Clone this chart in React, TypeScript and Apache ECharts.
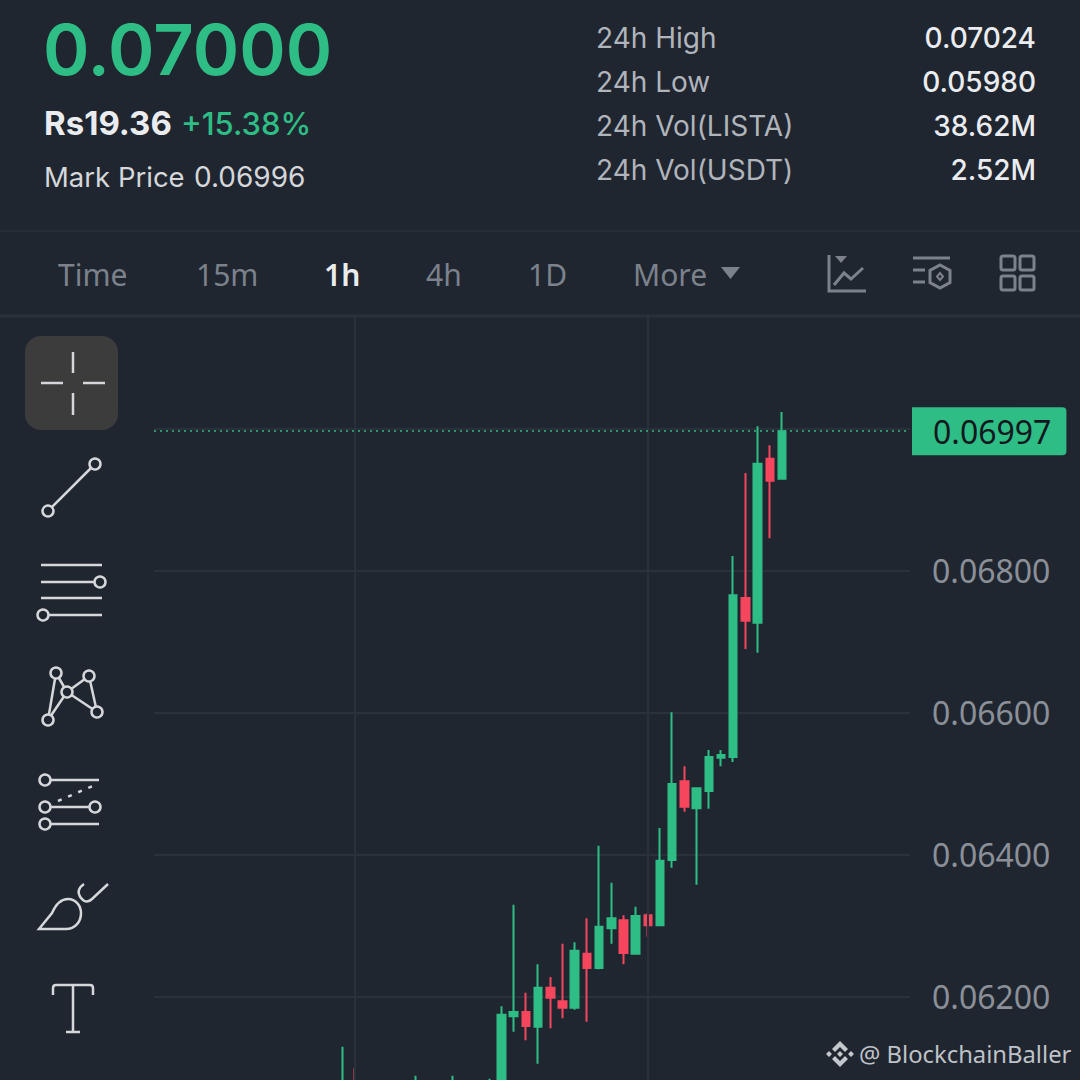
import React, { useEffect, useRef } from "react";
import * as echarts from "echarts";

// ---------- data ----------
const categories = [
  "0","1","2","3","4","5","6","7","8","9","10","11","12","13","14","15","16","17","18","19",
  "20","21","22","23","24","25","26","27","28","29","30","31","32","33","34","35","36","37","38","39",
  "40","41","42","43","44","45","46","47","48","49","50","51","52","53","54","55","56","57","58","59",
  "60","61",
];
const candleSlots = [15,16,21,24,27,28,29,30,31,32,33,34,35,36,37,38,39,40,41,42,43,44,45,46,47,48,49,50,51];
const opens = [0.0604,0.0607,0.0603,0.0605,0.0604,0.06062,0.06173,0.06179,0.06158,0.06213,0.06194,0.06185,0.06261,0.06241,0.06297,0.06308,0.06261,0.06315,0.06301,0.06393,0.06504,0.06466,0.0649,0.06537,0.06538,0.06762,0.06727,0.06958,0.0693];
const closes = [0.0607,0.0605,0.0606,0.0607,0.0606,0.06175,0.06179,0.06159,0.06213,0.06199,0.06185,0.06265,0.06241,0.06299,0.06311,0.06262,0.06314,0.06301,0.06392,0.065,0.06468,0.06494,0.06538,0.06541,0.06766,0.0673,0.06951,0.06927,0.06997];
const lows = [0.0602,0.0603,0.0601,0.0603,0.0602,0.06055,0.06151,0.06139,0.06106,0.06156,0.0617,0.06182,0.06165,0.06239,0.06275,0.06246,0.06261,0.06285,0.06301,0.06382,0.06461,0.06358,0.06465,0.06525,0.06531,0.0669,0.06685,0.06846,0.0693];
const highs = [0.0613,0.061,0.06089,0.06089,0.06085,0.06187,0.0633,0.06206,0.06246,0.06228,0.06275,0.06277,0.06311,0.06413,0.06361,0.06315,0.06327,0.06318,0.06438,0.06601,0.06525,0.06494,0.06548,0.06548,0.06821,0.06938,0.07004,0.06977,0.07024];
const dayMarkers = ["16", "40"];
const lastPrice = 0.06997;

const statLabels = ["24h High", "24h Low", "24h Vol(LISTA)", "24h Vol(USDT)"];
const statValues = ["0.07024", "0.05980", "38.62M", "2.52M"];
const tabLabels = ["Time", "15m", "1h", "4h", "1D", "More"];

// ---------- palette ----------
const BG = "#202630";
const GREEN = "#2EBD85";
const RED = "#F6465D";
const GRID = "#2B313B";
const ICON = "#D5D7DA";
const MUTED = "#7C828C";
const AXIS_FONT = '"Noto Sans", sans-serif';
const HEAD_FONT = 'Inter, "Noto Sans", sans-serif';

echarts.graphic.registerShape(
  "brushLeaf",
  echarts.graphic.extendPath("M39 929 L52 913 C56 904 62 899 68 899 C76 899 81 906 81 913 C81 922 75 929 66 929 Z M84 884 C78 888 77 893 81 898 C85 903 89 902 92 899 L108 884", {})
);
echarts.graphic.registerShape(
  "tGlyph",
  echarts.graphic.extendPath("M53 995 L53 988 Q53 985 56 985 L90 985 Q93 985 93 988 L93 995 M73 985 L73 1032 M66 1032 L80 1032", {})
);
echarts.graphic.registerShape(
  "bnbMark",
  echarts.graphic.extendPath("M840 1051 L843 1054 L840 1057 L837 1054 Z M829 1051 L832 1054 L829 1057 L826 1054 Z M851 1051 L854 1054 L851 1057 L848 1054 Z M840 1041 L848 1049 L845 1052 L840 1047 L835 1052 L832 1049 Z M840 1067 L832 1059 L835 1056 L840 1061 L845 1056 L848 1059 Z", {})
);

const ln = (x1: number, y1: number, x2: number, y2: number, stroke = ICON, lineWidth = 2.5, extra: any = {}) => ({
  type: "line",
  shape: { x1, y1, x2, y2 },
  style: { stroke, lineWidth, ...extra },
});
const dot = (cx: number, cy: number, r = 5.5) => ({
  type: "circle",
  shape: { cx, cy, r },
  style: { fill: BG, stroke: ICON, lineWidth: 2.5 },
});
const txt = (x: number, y: number, text: string, fontSize: number, fill: string, fontWeight: any = 400, align = "left", fontFamily = HEAD_FONT) => ({
  type: "text",
  x,
  y,
  style: { text, fontSize, fill, fontWeight, fontFamily, align, verticalAlign: "middle" },
});
const frame = (x: number, y: number) => ({
  type: "rect",
  shape: { x, y, width: 14, height: 14, r: 2 },
  style: { fill: "none", stroke: MUTED, lineWidth: 3 },
});

const tabX = [58, 196, 324, 426, 528, 633];

const graphicElements: any[] = [
  // header
  txt(43, 49, "0.07000", 70.5, GREEN, 600),
  txt(44, 123, "Rs19.36", 33, "#EAECEF", 700),
  txt(181, 123, "+15.38%", 31, GREEN, 500),
  txt(44, 177, "Mark Price", 27.5, "#D5D7DA", 400),
  txt(194, 177, "0.06996", 28, "#D5D7DA", 400),
  ...statLabels.map((s, i) => txt(596, 38 + i * 44, s, 28, "#B0B4BB", 400)),
  ...statValues.map((s, i) => txt(1036, 38 + i * 44, s, 28, "#EAECEF", 500, "right")),
  ln(0, 231, 1080, 231, "#2E343E", 1),
  // tabs
  ...tabLabels.map((s, i) =>
    txt(tabX[i], 274, s, 30, i === 2 ? "#EAECEF" : MUTED, i === 2 ? 600 : 400, "left", AXIS_FONT)
  ),
  { type: "polygon", shape: { points: [[721, 267], [740, 267], [730.5, 279]] }, style: { fill: MUTED } },
  ln(0, 316, 1080, 316, "#2A303A", 3),
  // top-right icons
  { type: "polyline", shape: { points: [[829, 255], [829, 291], [866, 291]] }, style: { fill: "none", stroke: MUTED, lineWidth: 3 } },
  { type: "polygon", shape: { points: [[835, 256], [847, 256], [841, 263]] }, style: { fill: MUTED } },
  { type: "polyline", shape: { points: [[834, 285], [844, 273], [851, 279], [863, 268]] }, style: { fill: "none", stroke: MUTED, lineWidth: 3 } },
  ln(913, 258, 950, 258, MUTED, 3),
  ln(913, 270, 925, 270, MUTED, 3),
  ln(913, 282, 925, 282, MUTED, 3),
  { type: "polygon", shape: { points: [[940, 265], [950, 270.5], [950, 282.5], [940, 288], [930, 282.5], [930, 270.5]] }, style: { fill: "none", stroke: MUTED, lineWidth: 3 } },
  { type: "polygon", shape: { points: [[940, 273], [943, 276.5], [940, 280], [937, 276.5]] }, style: { fill: "none", stroke: MUTED, lineWidth: 2 } },
  frame(1001, 256),
  frame(1020, 256),
  frame(1001, 276),
  frame(1020, 276),
  // drawing tools
  { type: "rect", shape: { x: 25, y: 336, width: 93, height: 94, r: 16 }, style: { fill: "#3C3C3C" } },
  ln(73, 352, 73, 373),
  ln(73, 393, 73, 415),
  ln(41, 383, 63, 383),
  ln(83, 383, 105, 383),
  ln(48, 511, 95, 464),
  dot(48, 511),
  dot(95, 464),
  ln(41, 565, 102, 565),
  ln(41, 582, 96, 582),
  dot(100, 582),
  ln(41, 598, 102, 598),
  ln(47, 615, 102, 615),
  dot(43, 615),
  ln(48, 720, 56, 673),
  ln(48, 720, 67, 692),
  ln(56, 673, 67, 692),
  ln(67, 692, 89, 676),
  ln(89, 676, 97, 712),
  ln(67, 692, 97, 712),
  dot(56, 673),
  dot(89, 676),
  dot(67, 692),
  dot(48, 720),
  dot(97, 712),
  ln(45, 780, 99, 780),
  ln(45, 807, 95, 807),
  ln(45, 824, 99, 824),
  ln(58, 801, 95, 785, ICON, 2.5, { lineDash: [4, 7] }),
  dot(45, 780),
  dot(45, 807),
  dot(95, 807),
  dot(45, 824),
  { type: "brushLeaf", style: { fill: "none", stroke: ICON, lineWidth: 2.5 } },
  { type: "tGlyph", style: { fill: "none", stroke: ICON, lineWidth: 2.5 } },
  // watermark
  { type: "bnbMark", style: { fill: "#C4C7CC" } },
  txt(859, 1054, "@ BlockchainBaller", 23.8, "#BFC2C7", 400, "left", AXIS_FONT),
];

export default function App() {
  const ref = useRef<HTMLDivElement>(null);

  useEffect(() => {
    document.body.style.margin = "0";
    document.body.style.background = BG;
    const chart = echarts.init(ref.current!, undefined, { renderer: "svg" });
    const seriesData = categories.map((_, i) => {
      const k = candleSlots.indexOf(i);
      return k < 0 ? "-" : [opens[k], closes[k], lows[k], highs[k]];
    });
    chart.setOption({
      animation: false,
      backgroundColor: BG,
      grid: { left: 154, top: 316, width: 756, height: 823, outerBoundsMode: "none" },
      xAxis: {
        type: "category",
        data: categories,
        boundaryGap: true,
        axisLine: { show: false },
        axisTick: { show: false },
        axisLabel: { show: false },
        splitLine: { show: false },
      },
      yAxis: {
        type: "value",
        position: "right",
        min: 0.06,
        max: 0.0715915,
        interval: 0.002,
        axisLine: { show: false },
        axisTick: { show: false },
        splitLine: { show: true, showMinLine: false, showMaxLine: false, lineStyle: { color: GRID, width: 2 } },
        axisLabel: {
          show: true,
          showMinLabel: false,
          showMaxLabel: false,
          margin: 22,
          color: "#8B9098",
          fontSize: 32,
          fontFamily: AXIS_FONT,
          formatter: (v: number) => (Math.abs(v - 0.07) < 1e-6 ? "" : v.toFixed(5)),
        },
      },
      series: [
        {
          type: "line",
          z: 1,
          data: [],
          silent: true,
          markLine: {
            silent: true,
            symbol: "none",
            label: { show: false },
            lineStyle: { color: GRID, width: 2, type: "solid" },
            data: dayMarkers.map((m) => ({ xAxis: m })),
          },
        },
        {
          type: "candlestick",
          z: 2,
          barWidth: 8,
          data: seriesData,
          itemStyle: {
            color: GREEN,
            color0: RED,
            borderColor: GREEN,
            borderColor0: RED,
            borderWidth: 2,
          },
          markLine: {
            silent: true,
            symbol: "none",
            precision: 5,
            data: [
              {
                yAxis: lastPrice,
                lineStyle: { color: GREEN, width: 1.5, type: [2, 4] },
                label: {
                  show: true,
                  position: "end",
                  distance: 2,
                  formatter: lastPrice.toFixed(5),
                  color: "#14181E",
                  fontSize: 32,
                  fontFamily: AXIS_FONT,
                  backgroundColor: GREEN,
                  borderRadius: [0, 4, 4, 0],
                  padding: [8, 15, 8, 21],
                },
              },
            ],
          },
        },
      ],
      graphic: { elements: graphicElements },
    });
    return () => chart.dispose();
  }, []);

  return (
    <div
      ref={ref}
      style={{ position: "fixed", left: 0, top: 0, width: 1080, height: 1080, overflow: "hidden", background: BG }}
    />
  );
}
